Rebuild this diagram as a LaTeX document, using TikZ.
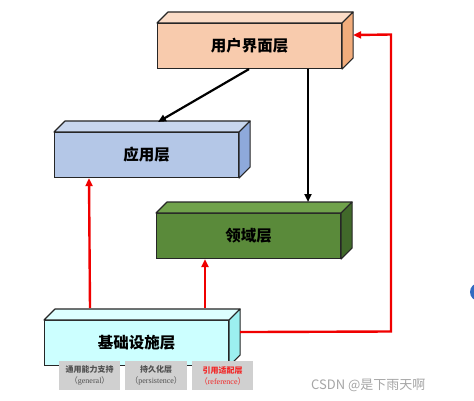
\documentclass[tikz,border=0pt]{standalone}
\usepackage{fontspec}
\newfontfamily\cjk{Noto Sans CJK SC}
\setmainfont{Liberation Serif}
\usetikzlibrary{arrows.meta,calc}
\definecolor{uiF}{HTML}{F8CBAD}\definecolor{uiT}{HTML}{FBDCC7}\definecolor{uiS}{HTML}{F2AD7C}
\definecolor{apF}{HTML}{B4C7E7}\definecolor{apT}{HTML}{C8D6EE}\definecolor{apS}{HTML}{8EA9DB}
\definecolor{doF}{HTML}{5A8A3A}\definecolor{doT}{HTML}{70A24B}\definecolor{doS}{HTML}{41692A}
\definecolor{inF}{HTML}{CCFFFF}\definecolor{inT}{HTML}{DDFFFF}\definecolor{inS}{HTML}{9CF0F0}
\definecolor{subG}{HTML}{D0D0D0}\definecolor{subT}{HTML}{505050}\definecolor{arrR}{HTML}{F00000}
\begin{document}
\begin{tikzpicture}[x=1pt,y=-1pt,
  layer/.style={draw=black!85,line width=1.1pt,minimum width=184pt,minimum height=45pt,inner sep=0pt,
    anchor=north west,font=\cjk\bfseries\fontsize{15.5}{15.5}\selectfont},
  face/.style={draw=black!85,line width=1.1pt,line join=round},
  sub/.style={fill=subG,minimum width=61pt,minimum height=29pt,inner sep=0pt,anchor=north west,
    align=center,text=subT,font=\fontsize{8}{11}\selectfont},
  blk/.style={draw=black,line width=2.2pt,-{Triangle[length=8pt,width=7pt]}},
  red/.style={draw=arrR,line width=2.4pt,-{Triangle[length=8pt,width=7pt]}}]
\useasboundingbox (0,0) rectangle (474,401);
\fill[white] (0,0) rectangle (474,401);
\def\dd{11}
% cubes
\newcommand{\mycube}[7]{%
  \node[layer,fill=#5] (#1) at (#2,#3) {#4};
  \filldraw[face,fill=#6] (#1.north west) -- ++(\dd,-\dd) -- ($(#1.north east)+(\dd,-\dd)$) -- (#1.north east) -- cycle;
  \filldraw[face,fill=#7] (#1.north east) -- ++(\dd,-\dd) -- ($(#1.south east)+(\dd,-\dd)$) -- (#1.south east) -- cycle;
}
\mycube{ui}{157}{23}{用户界面层}{uiF}{uiT}{uiS}
\mycube{app}{54}{132}{应用层}{apF}{apT}{apS}
\mycube{dom}{156}{213}{领域层}{doF}{doT}{doS}
\mycube{inf}{44}{320}{基础设施层}{inF}{inT}{inS}
% sub boxes
\node[sub] (s1) at (59,361) {{\cjk\bfseries 通用能力支持}\\{\cjk （}general{\cjk ）}};
\node[sub,minimum width=62pt] (s2) at (125,361) {{\cjk\bfseries 持久化层}\\{\cjk （}persistence{\cjk ）}};
\node[sub,text=arrR!85] (s3) at (192,361) {{\cjk\bfseries 引用适配层}\\{\cjk （}reference{\cjk ）}};
% black arrows
\draw[blk] ($(ui.south west)+(92,0)$) -- ($(app.north west)+(104,-10)$);
\draw[blk] ($(ui.south west)+(151,0)$) -- ($(dom.north west)+(152,-11)$);
% red arrows
\draw[red] ($(inf.north west)+(46,-12)$) -- ($(app.south west)+(35,0)$);
\draw[red] ($(inf.north west)+(161,-12)$) -- ($(dom.south west)+(49,0)$);
\coordinate (c1) at (391,331.5);
\coordinate (c2) at (391,34.5);
\draw[red,line join=miter] ($(inf.east)+(\dd,-\dd)$) -- (c1) -- (c2) -- ($(ui.east)+(\dd,-\dd)$);
% watermark
\node[anchor=west,text=black!35,font=\cjk\fontsize{13}{13}\selectfont,inner sep=0pt] (wm) at (311,385) {CSDN @是下雨天啊};
\fill[blue!60!cyan!70!black,opacity=0.8] (479,292) circle (9);
\end{tikzpicture}
\end{document}
